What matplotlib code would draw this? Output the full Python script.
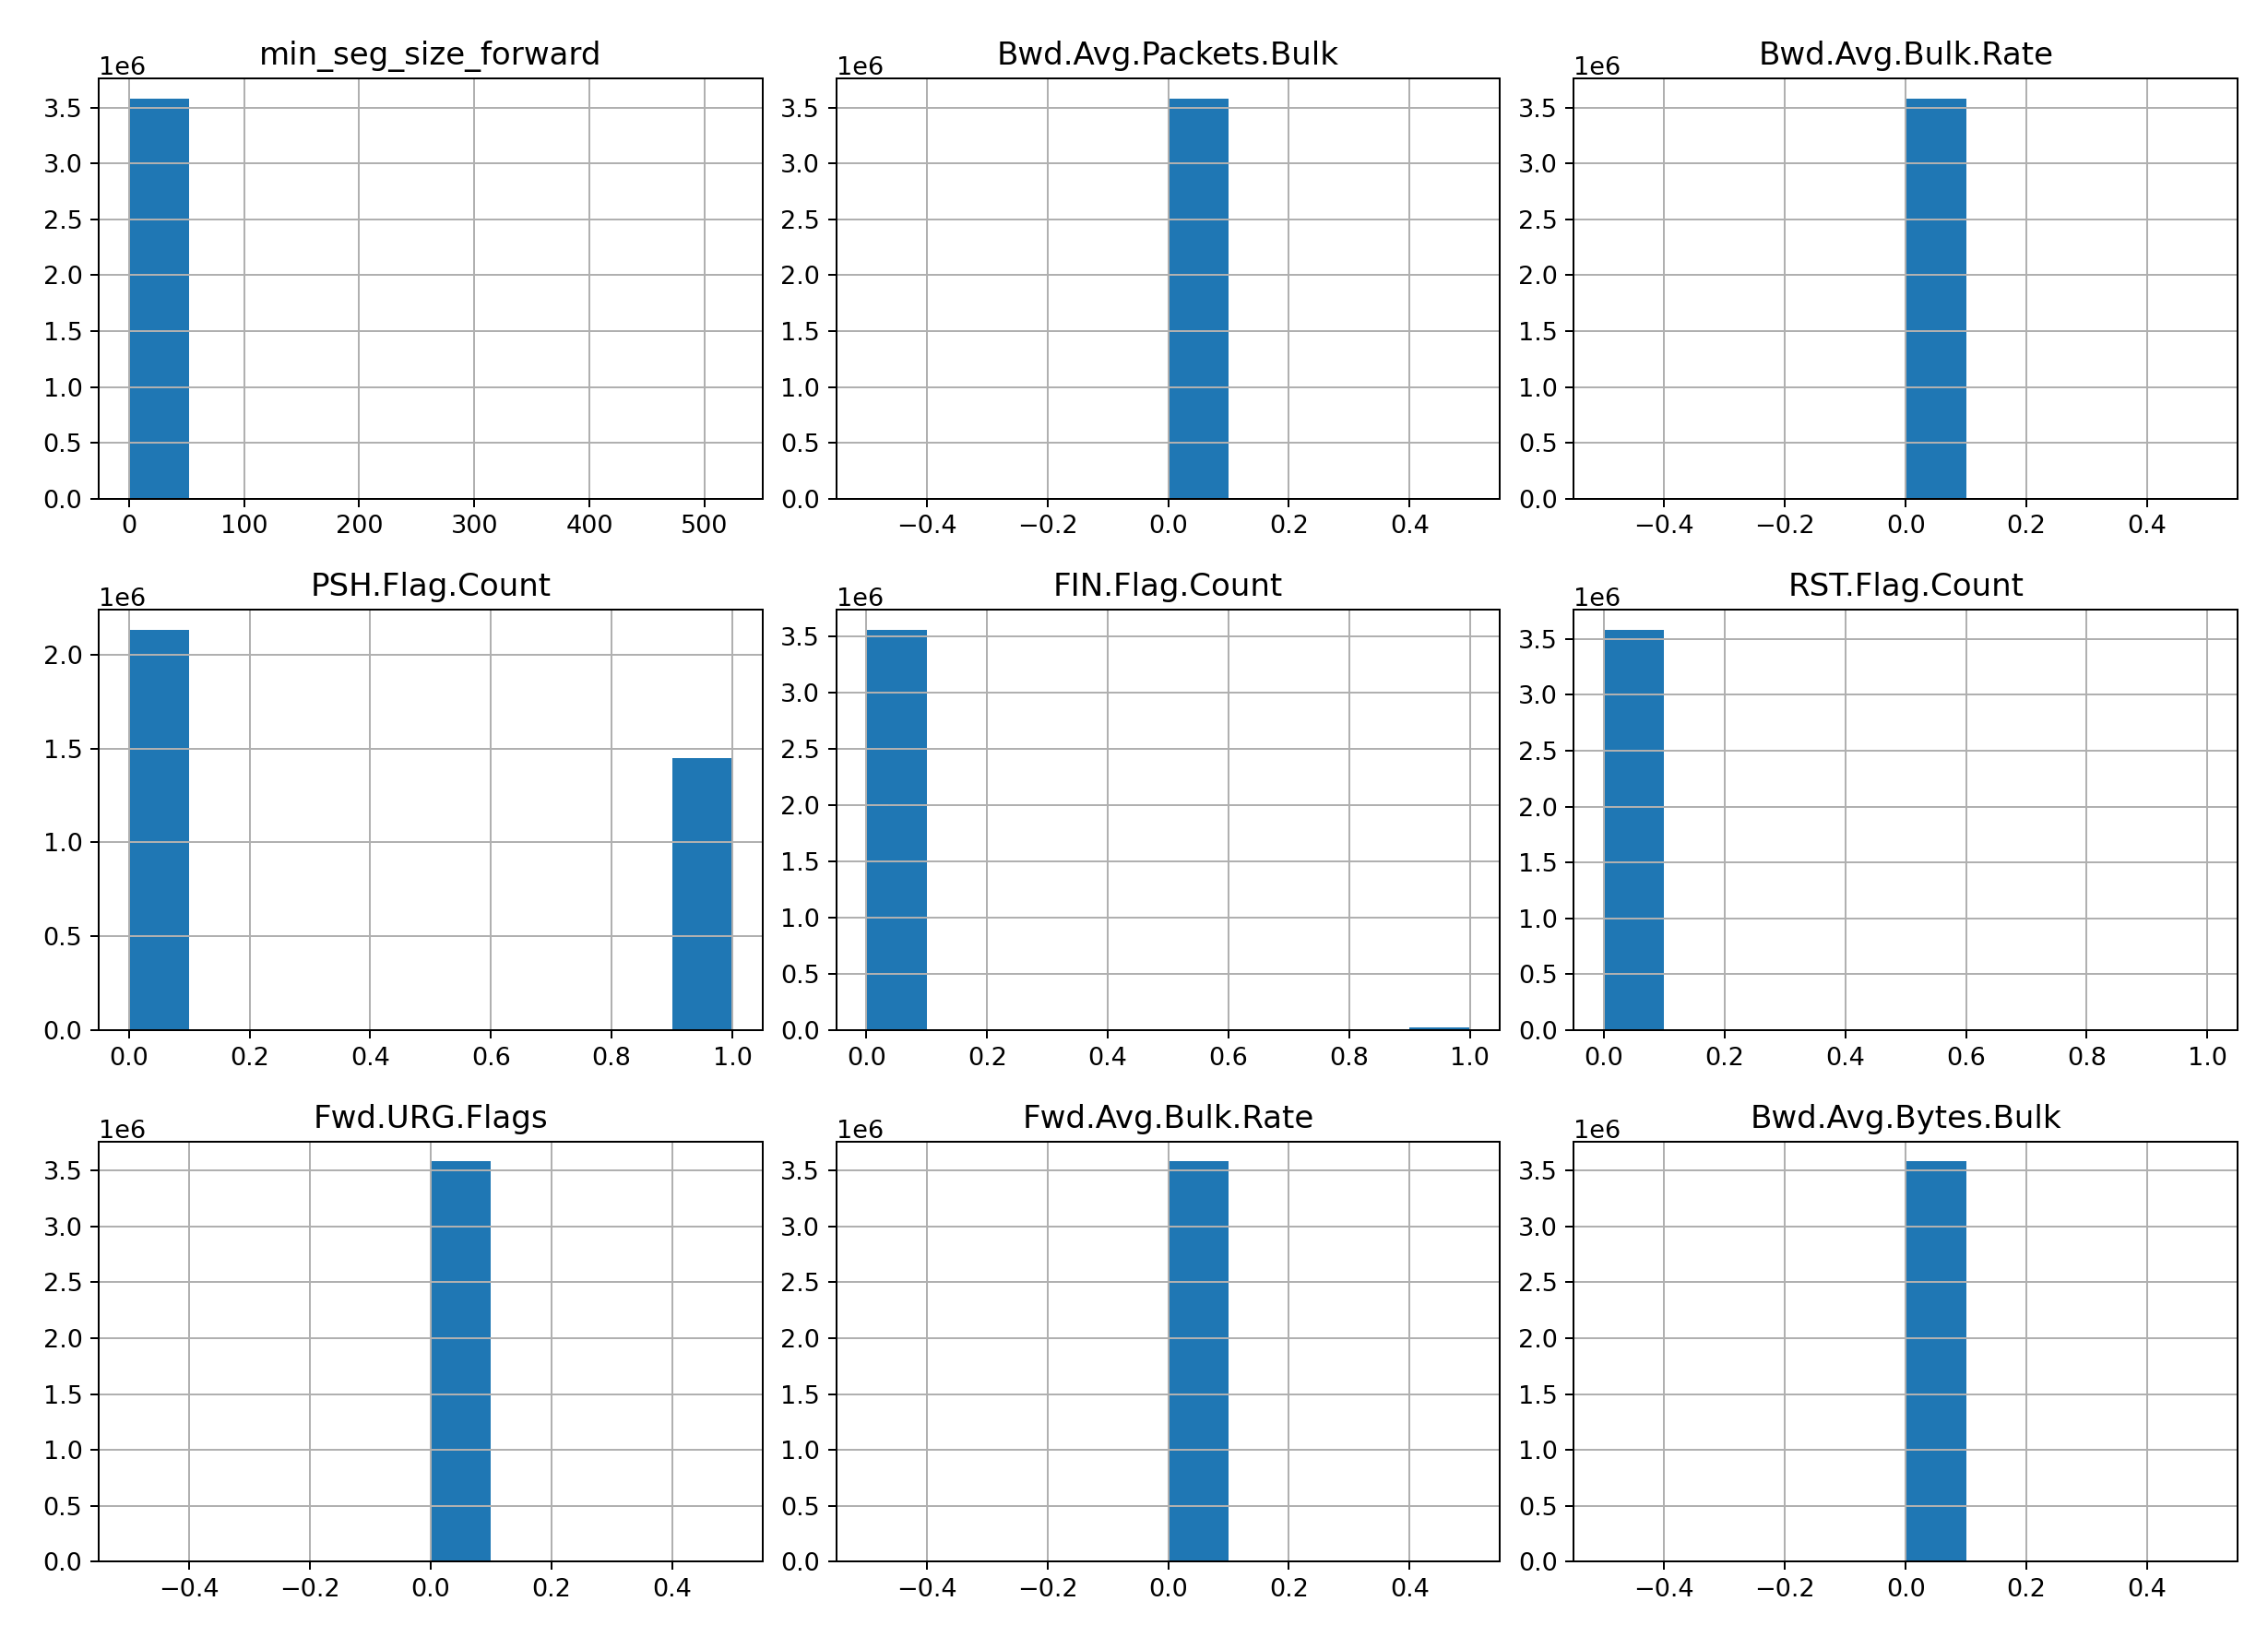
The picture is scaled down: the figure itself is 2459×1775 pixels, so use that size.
import matplotlib
matplotlib.use("Agg")
import matplotlib.pyplot as plt
from matplotlib.ticker import MultipleLocator

# ---- data (counts per histogram bin, 10 bins each) ----
titles = ["min_seg_size_forward", "Bwd.Avg.Packets.Bulk", "Bwd.Avg.Bulk.Rate",
          "PSH.Flag.Count", "FIN.Flag.Count", "RST.Flag.Count",
          "Fwd.URG.Flags", "Fwd.Avg.Bulk.Rate", "Bwd.Avg.Bytes.Bulk"]

edges_seg = [0, 52.4, 104.8, 157.2, 209.6, 262.0, 314.4, 366.8, 419.2, 471.6, 524]
edges_flag = [0.0, 0.1, 0.2, 0.3, 0.4, 0.5, 0.6, 0.7, 0.8, 0.9, 1.0]
edges_const = [-0.5, -0.4, -0.3, -0.2, -0.1, 0.0, 0.1, 0.2, 0.3, 0.4, 0.5]

counts_seg = [3.58e6, 0, 0, 0, 0, 0, 0, 0, 0, 0]
counts_bwd_pkts = [0, 0, 0, 0, 0, 3.58e6, 0, 0, 0, 0]
counts_bwd_rate = [0, 0, 0, 0, 0, 3.58e6, 0, 0, 0, 0]
counts_psh = [2.13e6, 0, 0, 0, 0, 0, 0, 0, 0, 1.45e6]
counts_fin = [3.555e6, 0, 0, 0, 0, 0, 0, 0, 0, 0.025e6]
counts_rst = [3.58e6, 0, 0, 0, 0, 0, 0, 0, 0, 0.001e6]
counts_urg = [0, 0, 0, 0, 0, 3.58e6, 0, 0, 0, 0]
counts_fwd_rate = [0, 0, 0, 0, 0, 3.58e6, 0, 0, 0, 0]
counts_bwd_bytes = [0, 0, 0, 0, 0, 3.58e6, 0, 0, 0, 0]

panel_edges = [edges_seg, edges_const, edges_const,
               edges_flag, edges_flag, edges_flag,
               edges_const, edges_const, edges_const]
panel_counts = [counts_seg, counts_bwd_pkts, counts_bwd_rate,
                counts_psh, counts_fin, counts_rst,
                counts_urg, counts_fwd_rate, counts_bwd_bytes]

s = 1.8
plt.rcParams.update({
    "font.family": ["DejaVu Sans"],
    "font.size": 19.5,
    "axes.linewidth": 0.8 * s,
    "xtick.major.width": 0.8 * s,
    "ytick.major.width": 0.8 * s,
    "xtick.major.size": 3.5 * s,
    "ytick.major.size": 3.5 * s,
    "xtick.major.pad": 3.5 * s,
    "ytick.major.pad": 3.5 * s,
    "grid.linewidth": 0.8 * s,
    "grid.color": "#b0b0b0",
})

fig, axes = plt.subplots(3, 3, figsize=(24.59, 17.75), dpi=100)
fig.subplots_adjust(left=0.0435, right=0.9866, top=0.952, bottom=0.046,
                    wspace=0.111, hspace=0.265)

for ax, title, edges, counts in zip(axes.flat, titles, panel_edges, panel_counts):
    ax.hist(edges[:-1], bins=edges, weights=counts, color="#1f77b4")
    ax.grid(True)
    ax.set_title(title, fontsize=24.5, pad=11)
    ax.yaxis.set_major_locator(MultipleLocator(0.5e6))
    ax.tick_params(labelsize=19.5)
    ax.yaxis.get_offset_text().set_fontsize(19.5)

fig.savefig("out.png", dpi=100)
